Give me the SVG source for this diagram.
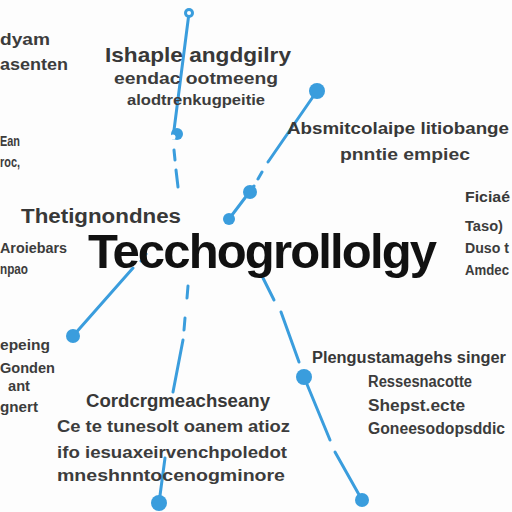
<svg xmlns="http://www.w3.org/2000/svg" width="512" height="512" viewBox="0 0 512 512">
<style>
.t{font-family:"Liberation Sans",Arial,sans-serif;fill:#383838;font-weight:bold}
.s{font-family:"Liberation Sans",Arial,sans-serif;fill:#3c3c3c;font-weight:bold}
.title{font-family:"Liberation Sans",Arial,sans-serif;fill:#111;font-weight:bold}
.ln{stroke:#3a9ddd;stroke-width:3;fill:none;stroke-linecap:round}
.dot{fill:#3a9ddd}
</style>
<rect width="512" height="512" fill="#fdfdfd"/>
<g id="connectors">
<path class="ln" d="M189 13 L173 138 M174 150 L175 160 M176 170 L178 187"/>
<path class="ln" d="M317 91 L268 162 M262 172 L258 179 M254 186 L229 219"/>
<path class="ln" d="M146 254 L141 261 M133 268 L73 336"/>
<path class="ln" d="M188 286 L187 298 M185 318 L184 330 M183 340 L173 392 M165 458 L159 503"/>
<path class="ln" d="M263 278 L274 300 M281 312 L299 362 M304 377 L330 440 M335 452 L362 500"/>
</g>
<g id="dots">
<circle class="dot" cx="189" cy="13" r="5"/><circle cx="189" cy="13" r="2" fill="#fff"/>
<circle class="dot" cx="177" cy="134" r="6"/><circle cx="173" cy="137" r="2.5" fill="#fff"/>
<circle class="dot" cx="317" cy="91" r="8"/>
<circle class="dot" cx="250" cy="192" r="7"/>
<circle class="dot" cx="229" cy="219" r="6"/>
<circle class="dot" cx="73" cy="336" r="7"/>
<circle class="dot" cx="304" cy="377" r="8"/>
<circle class="dot" cx="362" cy="500" r="7"/>
<circle class="dot" cx="159" cy="503" r="8"/>
</g>
<g id="title">
<text class="title" x="88" y="268" font-size="49" textLength="349" lengthAdjust="spacing">Tecchogrollolgy</text>
</g>
<g id="node-top">
<text class="t" x="105" y="62" font-size="21" textLength="186" lengthAdjust="spacingAndGlyphs">Ishaple angdgilry</text>
<text class="s" x="114" y="84" font-size="16" textLength="164" lengthAdjust="spacingAndGlyphs">eendac ootmeeng</text>
<text class="s" x="127" y="105" font-size="15" textLength="138" lengthAdjust="spacingAndGlyphs">alodtrenkugpeitie</text>
</g>
<g id="node-topleft">
<text class="s" x="0" y="45" font-size="16" textLength="50" lengthAdjust="spacingAndGlyphs">dyam</text>
<text class="s" x="0" y="70" font-size="16" textLength="68" lengthAdjust="spacingAndGlyphs">asenten</text>
</g>
<g id="node-leftmid">
<text class="s" x="0" y="146" font-size="14" textLength="20" lengthAdjust="spacingAndGlyphs">Ean</text>
<text class="s" x="0" y="167" font-size="14" textLength="20" lengthAdjust="spacingAndGlyphs">roc,</text>
</g>
<g id="node-left">
<text class="t" x="21" y="223" font-size="20" textLength="160" lengthAdjust="spacingAndGlyphs">Thetignondnes</text>
<text class="s" x="0" y="253" font-size="15" textLength="67" lengthAdjust="spacingAndGlyphs">Aroiebars</text>
<text class="s" x="0" y="274" font-size="15" textLength="28" lengthAdjust="spacingAndGlyphs">npao</text>
</g>
<g id="node-topright">
<text class="t" x="287" y="134" font-size="17" textLength="222" lengthAdjust="spacingAndGlyphs">Absmitcolaipe litiobange</text>
<text class="s" x="340" y="160" font-size="16" textLength="130" lengthAdjust="spacingAndGlyphs">pnntie empiec</text>
</g>
<g id="node-right">
<text class="t" x="465" y="202" font-size="15" textLength="45" lengthAdjust="spacingAndGlyphs">Ficiaé</text>
<text class="s" x="465" y="231" font-size="14" textLength="38" lengthAdjust="spacingAndGlyphs">Taso)</text>
<text class="s" x="465" y="253" font-size="14" textLength="44" lengthAdjust="spacingAndGlyphs">Duso t</text>
<text class="s" x="465" y="275" font-size="14" textLength="44" lengthAdjust="spacingAndGlyphs">Amdec</text>
</g>
<g id="node-bottomleft">
<text class="s" x="0" y="350" font-size="15" textLength="50" lengthAdjust="spacingAndGlyphs">epeing</text>
<text class="s" x="0" y="373" font-size="15" textLength="55" lengthAdjust="spacingAndGlyphs">Gonden</text>
<text class="s" x="8" y="391" font-size="15" textLength="22" lengthAdjust="spacingAndGlyphs">ant</text>
<text class="s" x="0" y="412" font-size="15" textLength="38" lengthAdjust="spacingAndGlyphs">gnert</text>
</g>
<g id="node-bottomright">
<text class="t" x="312" y="363" font-size="16" textLength="194" lengthAdjust="spacingAndGlyphs">Plengustamagehs singer</text>
<text class="s" x="368" y="387" font-size="16" textLength="104" lengthAdjust="spacingAndGlyphs">Ressesnacotte</text>
<text class="s" x="368" y="411" font-size="16" textLength="97" lengthAdjust="spacingAndGlyphs">Shepst.ecte</text>
<text class="s" x="368" y="434" font-size="16" textLength="137" lengthAdjust="spacingAndGlyphs">Goneesodopsddic</text>
</g>
<g id="node-bottom">
<text class="t" x="86" y="407" font-size="19" textLength="184" lengthAdjust="spacingAndGlyphs">Cordcrgmeachseany</text>
<text class="s" x="57" y="432" font-size="17" textLength="233" lengthAdjust="spacingAndGlyphs">Ce te tunesolt oanem atioz</text>
<text class="s" x="57" y="458" font-size="17" textLength="230" lengthAdjust="spacingAndGlyphs">ifo iesuaxeirvenchpoledot</text>
<text class="s" x="57" y="481" font-size="17" textLength="228" lengthAdjust="spacingAndGlyphs">mneshnntocenogminore</text>
</g>
</svg>
